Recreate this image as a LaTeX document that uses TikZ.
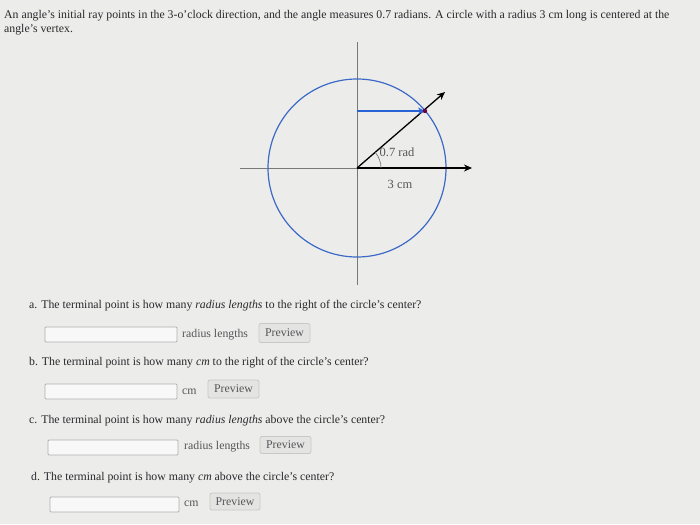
\documentclass[tikz,border=0pt]{standalone}
\usepackage{fontspec}
\setmainfont{Liberation Serif}
\usetikzlibrary{arrows.meta}
\definecolor{bg}{RGB}{236,237,234}
\definecolor{txt}{RGB}{40,40,45}
\definecolor{soft}{RGB}{85,85,90}
\definecolor{circ}{RGB}{60,105,200}
\definecolor{barb}{RGB}{40,100,215}
\definecolor{axisg}{RGB}{120,120,120}
\definecolor{boxb}{RGB}{175,175,175}
\definecolor{btnf}{RGB}{228,228,226}
\definecolor{btnb}{RGB}{200,200,198}
\tikzset{
  hdr/.style={anchor=base west, inner sep=0pt, text=txt, font=\fontsize{11.8}{13}\selectfont},
  qtext/.style={anchor=base west, inner sep=0pt, text=txt, font=\fontsize{11.8}{13}\selectfont},
  unit/.style={anchor=base west, inner sep=0pt, text=soft, font=\fontsize{11.8}{13}\selectfont},
  inbox/.style={draw=boxb, fill=white!60!bg, line width=0.8pt, rounded corners=1pt},
  btn/.style={draw=btnb, fill=btnf, line width=0.8pt, rounded corners=2pt, text=soft, font=\fontsize{11.8}{13}\selectfont, inner sep=0pt},
  lbl/.style={inner sep=0pt, text=soft, font=\fontsize{12.5}{14}\selectfont},
  ax/.style={draw=axisg, line width=0.7pt},
  ray/.style={draw=black, line width=1.3pt, -{Stealth[length=8pt,width=7pt]}},
}
\begin{document}
\begin{tikzpicture}[x=1pt,y=-1pt]
\fill[bg] (0,0) rectangle (700,524);
\useasboundingbox (0,0) rectangle (700,524);
% header
\node[hdr] (h1) at (4,19) {An angle's initial ray points in the 3-o'clock direction, and the angle measures 0.7 radians. A circle with a radius 3 cm long is centered at the};
\node[hdr] (h2) at (4,33) {angle's vertex.};
% diagram
\coordinate (O) at (357,168);
\coordinate (vt) at (357,42);
\coordinate (vb) at (357,285);
\coordinate (hl) at (240,168);
\coordinate (xe) at (472,168);
\coordinate (te) at (445,92);
\coordinate (P) at (425,111);
\coordinate (Py) at (357,111);
\coordinate (arcs) at (381,168);
\draw[ax] (vt) -- (vb);
\draw[ax] (hl) -- (O);
\draw[draw=circ, line width=1.2pt] (O) circle[radius=89];
\draw[ray] (O) -- (xe);
\draw[ray] (O) -- (te);
\draw[draw=barb, line width=2.2pt, -{Stealth[length=7pt,width=7pt]}] (Py) -- (P);
\fill[red!60!blue!70!black] (P) circle[radius=2.2];
\draw[draw=axisg, line width=0.7pt] (arcs) arc[start angle=0, end angle=-40.1, radius=24];
\node[lbl] (ang) at (397,152) {0.7 rad};
\node[lbl] (rad) at (400,184) {3 cm};
% question a
\node[qtext] (qa) at (29,308) {a. The terminal point is how many \textit{radius lengths} to the right of the circle's center?};
\draw[inbox] (45,327) rectangle (177,342);
\node[unit] (ua) at (182,337) {radius lengths};
\node[btn, minimum width=51pt, minimum height=19pt] (pa) at (284.5,333) {Preview};
% question b
\node[qtext] (qb) at (29,365) {b. The terminal point is how many \textit{cm} to the right of the circle's center?};
\draw[inbox] (45,384) rectangle (177,399);
\node[unit] (ub) at (182,394) {cm};
\node[btn, minimum width=51pt, minimum height=18pt] (pb) at (233.5,389) {Preview};
% question c
\node[qtext] (qc) at (29,423) {c. The terminal point is how many \textit{radius lengths} above the circle's center?};
\draw[inbox] (48,440) rectangle (178,455);
\node[unit] (uc) at (184,449) {radius lengths};
\node[btn, minimum width=51pt, minimum height=17pt] (pc) at (285.5,445) {Preview};
% question d
\node[qtext] (qd) at (31,480) {d. The terminal point is how many \textit{cm} above the circle's center?};
\draw[inbox] (50,497) rectangle (179,512);
\node[unit] (ud) at (184,506) {cm};
\node[btn, minimum width=50pt, minimum height=17pt] (pd) at (235,501.5) {Preview};
\end{tikzpicture}
\end{document}
